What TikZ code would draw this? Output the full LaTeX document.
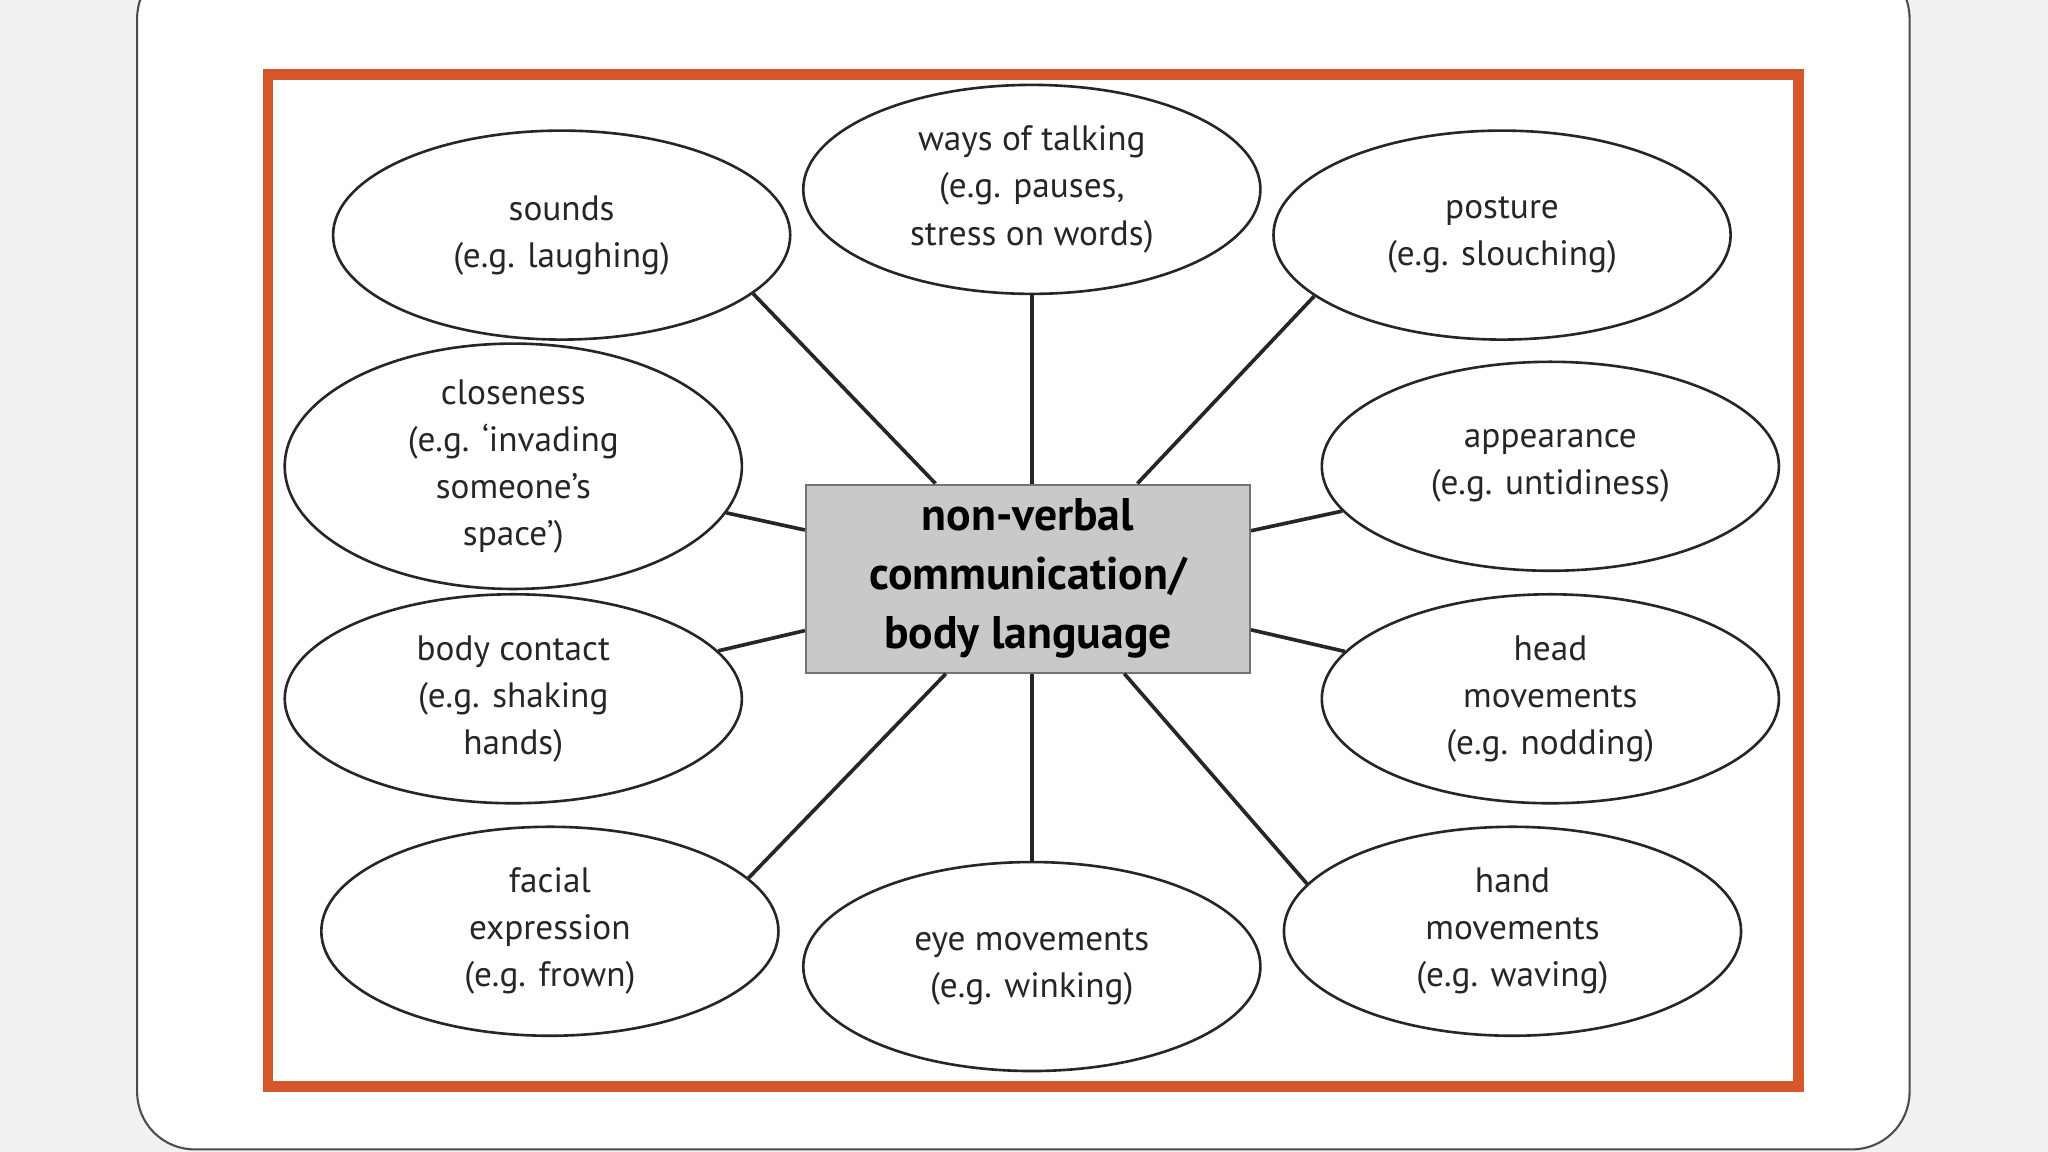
\documentclass[tikz,border=0pt]{standalone}
\usepackage{fontspec}
\setmainfont{PT Sans}
\usetikzlibrary{shapes.geometric,calc}
\definecolor{bg}{HTML}{F1F1F1}
\definecolor{frame}{HTML}{D4562A}
\definecolor{boxfill}{HTML}{C9C9CB}
\tikzset{
  bub/.style={ellipse,draw=black!85,line width=1pt,fill=white,minimum width=175pt,minimum height=80pt,inner sep=0pt,align=center,font=\fontsize{13.5}{18}\selectfont,text=black!85},
  hub/.style={rectangle,draw=black!55,line width=0.8pt,fill=boxfill,minimum width=170pt,minimum height=72pt,align=center,font=\fontsize{17.5}{22.5}\selectfont\bfseries},
  spoke/.style={line width=1.4pt,black!85}
}
\begin{document}
\begin{tikzpicture}[x=0.5pt,y=-0.5pt]
\useasboundingbox (0,0) rectangle (1568,882);
\fill[bg] (0,0) rectangle (1568,882);
\draw[fill=white,draw=black!70,line width=0.8pt,rounded corners=22pt] (105,-30) rectangle (1462,880);
\fill[black!20] (209,61) rectangle (1381,836);
\draw[frame,line width=4pt,fill=white] (205,57) rectangle (1377,832);
\node[hub] (c) at (787,443) {non-verbal\\communication/\\body language};
\node[bub] (s) at (430,180) {sounds\\(e.g. laughing)};
\node[bub] (w) at (790,145) {ways of talking\\(e.g. pauses,\\stress on words)};
\node[bub] (p) at (1150,180) {posture\\(e.g. slouching)};
\node[bub] (cl) at (393,357) {closeness\\(e.g. ‘invading\\someone’s\\space’)};
\node[bub] (a) at (1187,357) {appearance\\(e.g. untidiness)};
\node[bub] (b) at (393,535) {body contact\\(e.g. shaking\\hands)};
\node[bub] (h) at (1187,535) {head\\movements\\(e.g. nodding)};
\node[bub] (f) at (421,713) {facial\\expression\\(e.g. frown)};
\node[bub] (e) at (790,740) {eye movements\\(e.g. winking)};
\node[bub] (hm) at (1158,713) {hand\\movements\\(e.g. waving)};
\coordinate (cs) at ($(c.north west)+(100,0)$);
\coordinate (cp) at ($(c.north east)+(-87,0)$);
\coordinate (cf) at ($(c.south west)+(108,0)$);
\coordinate (ch) at ($(c.south east)+(-97,0)$);
\draw[spoke] (s.-17) -- (cs);
\draw[spoke] (w) -- (w|-c.north);
\draw[spoke] (p.-162) -- (cp);
\draw[spoke] (cl) -- (c);
\draw[spoke] (a) -- (c);
\draw[spoke] (b) -- (c);
\draw[spoke] (h) -- (c);
\draw[spoke] (f.15) -- (cf);
\draw[spoke] (e) -- (e|-c.south);
\draw[spoke] (hm.167) -- (ch);
\end{tikzpicture}
\end{document}
